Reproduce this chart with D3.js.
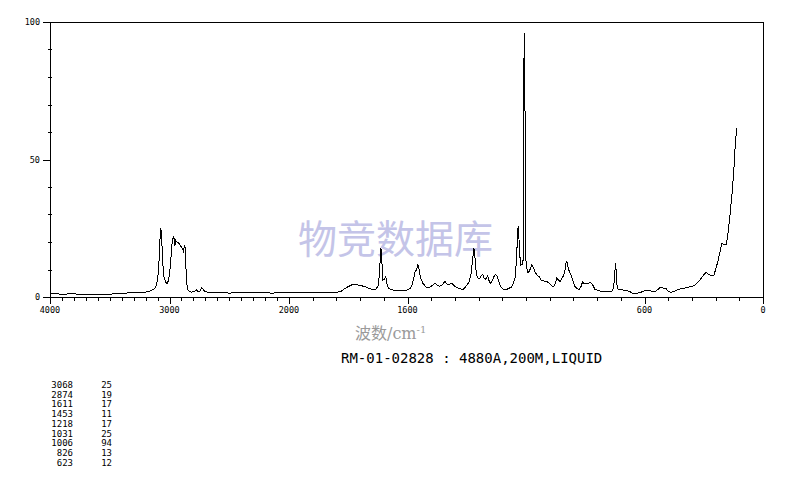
<!DOCTYPE html>
<html>
<head>
<meta charset="utf-8">
<script src="https://cdn.jsdelivr.net/npm/d3@7"></script>
<style>
html,body{margin:0;padding:0;background:#fff;}
svg{display:block;}
</style>
</head>
<body>
<svg id="chart" width="794" height="482"></svg>
<script>
// Raman spectrum data (wavenumber cm-1, relative intensity)
const wavenumbers = [4000,3950,3900,3850,3800,3750,3700,3650,3600,3550,3500,3460,3420,3380,3340,3300,3260,3220,3180,3160,3130,3115,3100,3090,3082,3076,3070,3064,3056,3045,3030,3020,3008,2998,2988,2978,2968,2960,2955,2948,2940,2930,2920,2910,2900,2890,2882,2876,2870,2864,2856,2848,2835,2815,2800,2785,2772,2760,2745,2730,2720,2705,2680,2640,2600,2550,2500,2450,2400,2350,2300,2250,2200,2150,2100,2050,2000,1950,1900,1850,1800,1780,1765,1750,1735,1722,1705,1690,1675,1660,1645,1632,1622,1617,1612,1608,1604,1598,1592,1587,1580,1565,1545,1525,1505,1490,1480,1472,1467,1462,1457,1451,1445,1435,1425,1418,1405,1395,1384,1375,1365,1355,1348,1342,1335,1325,1318,1312,1305,1295,1280,1265,1252,1240,1232,1226,1220,1215,1210,1205,1198,1190,1183,1178,1170,1162,1156,1150,1142,1135,1128,1122,1117,1108,1098,1088,1075,1062,1054,1046,1040,1036,1033,1030,1026,1022,1016,1011,1008,1005,1002,999,994,990,983,976,968,962,954,945,936,925,913,903,893,886,878,870,863,857,850,844,837,832,828,823,818,812,803,793,784,775,768,761,756,751,740,730,723,715,709,695,674,655,638,630,626,622,618,615,605,589,575,561,548,535,519,505,492,475,456,445,435,422,410,400,390,377,364,350,336,320,301,285,266,252,240,232,224,207,198,189,180,174,165,156,150,146,140,136,130,125,120,117,111];
const intensities = [1.1,1.2,1.0,1.1,1.2,0.9,0.8,0.8,0.9,0.8,0.9,1.3,1.3,1.4,1.5,1.6,1.5,1.7,1.9,2.3,2.8,3.8,6,11,18,25,24,20,12,7,5.2,5,6,9,14,20,22,21,18.5,20.5,20,19.8,19.5,18.8,18.2,17.3,16.5,19,18,12,5,2.8,2.0,1.8,1.9,2.3,2.6,1.9,2.2,3.4,2.9,2.0,1.7,1.6,1.5,1.6,1.4,1.6,1.7,1.5,1.6,1.5,1.6,1.4,1.5,1.6,1.6,1.5,1.6,1.5,1.7,2.1,3.0,3.8,4.4,4.6,4.3,4.0,3.6,3.0,2.7,2.9,4.5,11,17.8,13,6.2,6.3,7.5,5,3.2,2.6,2.4,2.3,2.5,3.0,4.5,7.5,9.8,9.5,12,10,7,5,4,3.3,3.6,4.2,5.0,4.3,3.9,4.2,5.0,5.6,4.8,4.4,4.8,5.1,4.2,3.6,3.0,2.8,4.0,5.5,8.5,13,17.8,14,9,7,6.5,7.5,8.3,7.0,6.5,7.7,6.0,5.0,6.0,7.5,8.3,7.5,6.2,3.8,3.0,2.6,3.0,3.6,4.8,6.9,13.5,22,25.8,21.8,15,11.6,11.8,14,96,87,15,12,9,8.8,10,11.6,10.5,9.2,8,7.4,6.2,5.8,5.6,5.2,4.3,3.6,4.5,6.9,6.2,5.6,6.5,7.4,9,12,13.2,11,9.5,8.4,6,3.8,3.0,2.8,3.8,5.6,5.0,4.7,4.9,5.2,5.0,3.8,2.8,2.3,1.9,1.9,2.0,3.5,8,12.5,7,3.1,2.7,2.5,2.3,1.9,1.1,1.3,1.6,2.1,2.5,2.2,1.9,2.6,3.4,3.3,3.1,2.2,1.6,2.0,2.5,2.9,3.1,3.5,3.8,4.5,6.2,7.8,9,8.4,8,8,10.5,13.5,17,19.5,19.2,18.9,21.5,24.4,29,32.8,38,43.8,50,55.9,61.3];

const xTickValues = [4000,3000,2000,1500,500,0];
const xTickLabels = ["4000","3000","2000","1600","600","0"];
const yTickValues = [0,50,100];
const yTickLabels = ["0","50","100"];

const peakWavenumbers = ["3068","2874","1611","1453","1218","1031","1006","826","623"];
const peakIntensities = ["25","19","17","11","17","25","94","13","12"];

const titleText = "RM-01-02828 : 4880A,200M,LIQUID";
const watermarkText = "物竞数据库";

const svg = d3.select("#chart");
const L = 50, R = 763, T = 22, B = 297;

const x = d3.scaleLinear().domain([4000, 2000, 0]).range([L, 289, R]);
const y = d3.scaleLinear().domain([0, 100]).range([B, T]);

// watermark
svg.append("text")
  .attr("x", 298).attr("y", 253)
  .attr("font-family", "Noto Sans CJK SC")
  .attr("font-size", 39)
  .attr("fill", "#c4c4e8")
  .text(watermarkText);

// frame
svg.append("rect")
  .attr("x", L + 0.5).attr("y", T + 0.5)
  .attr("width", R - L).attr("height", B - T)
  .attr("fill", "none").attr("stroke", "#000").attr("stroke-width", 1)
  .attr("shape-rendering", "crispEdges");

const axG = svg.append("g").attr("shape-rendering", "crispEdges").attr("stroke", "#000");

// x ticks every 100
d3.range(0, 4001, 100).forEach(v => {
  const major = xTickValues.includes(v);
  axG.append("line")
    .attr("x1", Math.round(x(v)) + 0.5).attr("x2", Math.round(x(v)) + 0.5)
    .attr("y1", B).attr("y2", B + (major ? 7 : 4));
});
// y ticks every 10
d3.range(0, 101, 10).forEach(v => {
  const major = yTickValues.includes(v);
  axG.append("line")
    .attr("y1", Math.round(y(v)) + 0.5).attr("y2", Math.round(y(v)) + 0.5)
    .attr("x1", major ? L - 7 : L - 2).attr("x2", major ? L : L + 2);
});

// x tick labels
svg.append("g").selectAll("text").data(xTickValues).join("text")
  .attr("x", d => x(d)).attr("y", 313)
  .attr("text-anchor", "middle")
  .attr("font-family", "DejaVu Sans Mono").attr("font-size", 8.5)
  .text((d, i) => xTickLabels[i]);

// y tick labels
svg.append("g").selectAll("text").data(yTickValues).join("text")
  .attr("x", 40).attr("y", d => y(d) + 3)
  .attr("text-anchor", "end")
  .attr("font-family", "DejaVu Sans Mono").attr("font-size", 8.5)
  .text((d, i) => yTickLabels[i]);

// spectrum
const pts = wavenumbers.map((w, i) => [w, intensities[i]]);
svg.append("path")
  .datum(pts)
  .attr("fill", "none").attr("stroke", "#000").attr("stroke-width", 1)
  .attr("shape-rendering", "crispEdges")
  .attr("d", d3.line().x(d => x(d[0])).y(d => y(d[1])));

// axis title
const at = svg.append("text").attr("x", 355).attr("y", 339).attr("fill", "#9a9a9a");
at.append("tspan").attr("font-family", "Noto Sans CJK SC").attr("font-size", 16).text("波数");
at.append("tspan").attr("font-family", "DejaVu Serif").attr("font-size", 16).text("/cm");
at.append("tspan").attr("font-family", "DejaVu Serif").attr("font-size", 10).attr("dy", -6).text("-1");

// title
svg.append("text")
  .attr("x", 341).attr("y", 363)
  .attr("font-family", "DejaVu Sans Mono").attr("font-size", 14)
  .text(titleText);

// peak table
const tbl = svg.append("g").attr("font-family", "DejaVu Sans Mono").attr("font-size", 9);
tbl.selectAll("text.w").data(peakWavenumbers).join("text").attr("class", "w")
  .attr("x", 73).attr("y", (d, i) => 388 + i * 9.7)
  .attr("text-anchor", "end").text(d => d);
tbl.selectAll("text.v").data(peakIntensities).join("text").attr("class", "v")
  .attr("x", 112).attr("y", (d, i) => 388 + i * 9.7)
  .attr("text-anchor", "end").text(d => d);
</script>
</body>
</html>
